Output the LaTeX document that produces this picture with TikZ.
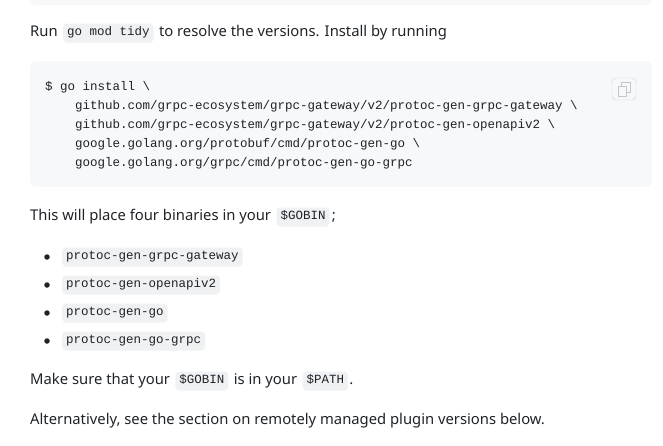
\documentclass[tikz,border=0pt]{standalone}
\usepackage{fontspec}
\setmainfont{Noto Sans}
\setmonofont{Liberation Mono}
\usetikzlibrary{positioning}
\definecolor{codebg}{HTML}{F6F8FA}
\definecolor{pillbg}{HTML}{EFF1F3}
\definecolor{ink}{HTML}{1F2328}

\begin{document}
\begin{tikzpicture}[
    x=1pt, y=-1pt,
    node distance=3pt,
    txt/.style={inner xsep=0pt, inner ysep=0pt, text height=10pt, text depth=3pt, font=\fontsize{14.8}{18}\selectfont, text=ink},
    pill/.style={fill=pillbg, rounded corners=4pt, inner xsep=4pt, inner ysep=0pt, text height=12pt, text depth=7pt, font=\ttfamily\fontsize{12.5}{14}\selectfont, text=ink},
    codeline/.style={anchor=west, inner sep=0pt, font=\ttfamily\fontsize{12.5}{14}\selectfont, text=ink},
    bullet/.style={circle, fill=ink, inner sep=0pt, minimum size=5.5pt}
]
\useasboundingbox (0,0) rectangle (663,445);

% Blocks
\fill[codebg, rounded corners=6pt] (30,-12) rectangle (652,5);
\fill[codebg, rounded corners=6pt] (30,61) rectangle (652,187);
\draw[gray!35, rounded corners=4pt] (612,78) rectangle (636,100);
\draw[gray!45] (618,86) rectangle (626,96) (621,86) -- (621,82) -- (630,82) -- (630,92) -- (626,92);

% Run line
\node[txt, anchor=west] (run) at (30,33) {Run};
\node[pill, right=5pt of run] (tidy) {go mod tidy};
\node[txt, right=5pt of tidy] (resolve) {to resolve the versions. Install by running};

% Code
\node[codeline] (c0) at (45,87) {\$ go install \textbackslash};
\node[codeline] (c1) at (75,106) {github.com/grpc-ecosystem/grpc-gateway/v2/protoc-gen-grpc-gateway \textbackslash};
\node[codeline] (c2) at (75,125) {github.com/grpc-ecosystem/grpc-gateway/v2/protoc-gen-openapiv2 \textbackslash};
\node[codeline] (c3) at (75,144) {google.golang.org/protobuf/cmd/protoc-gen-go \textbackslash};
\node[codeline] (c4) at (75,163) {google.golang.org/grpc/cmd/protoc-gen-go-grpc};

% Binaries
\node[txt, anchor=west] (place) at (30,217) {This will place four binaries in your};
\node[pill, right=5pt of place] (gobin) {\$GOBIN};
\node[txt, right=2pt of gobin] (semi) {;};

\node[bullet] (b1) at (47,257) {};
\node[pill, anchor=west] (p1) at (62,257) {protoc-gen-grpc-gateway};
\node[bullet] (b2) at (47,285) {};
\node[pill, anchor=west] (p2) at (62,285) {protoc-gen-openapiv2};
\node[bullet] (b3) at (47,313) {};
\node[pill, anchor=west] (p3) at (62,313) {protoc-gen-go};
\node[bullet] (b4) at (47,341) {};
\node[pill, anchor=west] (p4) at (62,341) {protoc-gen-go-grpc};

% Path
\node[txt, anchor=west] (sure) at (30,381) {Make sure that your};
\node[pill, right=5pt of sure] (gobin2) {\$GOBIN};
\node[txt, right=5pt of gobin2] (isin) {is in your};
\node[pill, right=5pt of isin] (path) {\$PATH};
\node[txt, right=1pt of path] (dot) {.};

\node[txt, anchor=west] (alt) at (30,421) {Alternatively, see the section on remotely managed plugin versions below.};
\end{tikzpicture}
\end{document}
